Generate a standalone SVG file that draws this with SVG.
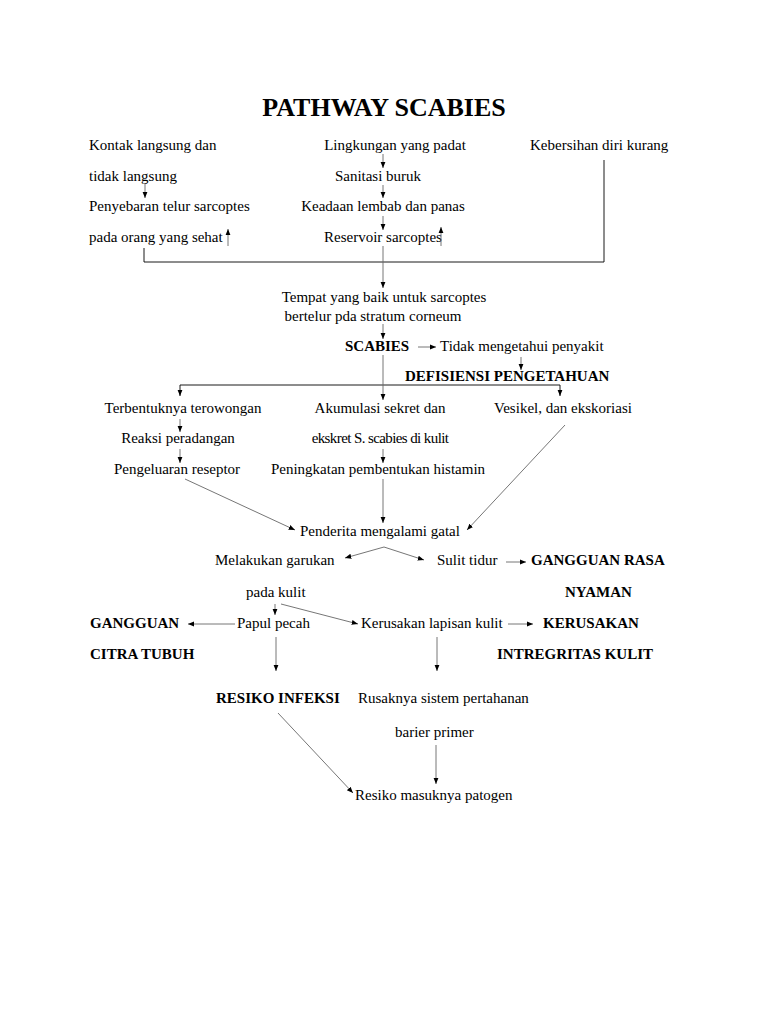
<svg xmlns="http://www.w3.org/2000/svg" width="768" height="1024" viewBox="0 0 768 1024">
<defs>
<marker id="a" viewBox="0 0 10 10" refX="10" refY="5" markerWidth="7" markerHeight="7" orient="auto"><path d="M0,1 L10,5 L0,9 Z" fill="#000"/></marker>
<style>
text{font-family:"Liberation Serif",serif;font-size:15px;fill:#000}
.b{font-weight:bold}
.c{text-anchor:middle}
line,polyline{stroke:#666;stroke-width:0.9;fill:none}
.k{stroke:#000}
</style>
</defs>
<rect width="768" height="1024" fill="#fff"/>
<text x="384" y="116" class="b c" style="font-size:26px">PATHWAY SCABIES</text>
<g id="n1"><text x="89" y="150">Kontak langsung dan</text><text x="89" y="181">tidak langsung</text></g>
<g id="n2"><text x="89" y="211">Penyebaran telur sarcoptes</text><text x="89" y="242">pada orang yang sehat</text></g>
<g id="n3"><text x="395" y="150" class="c">Lingkungan yang padat</text></g>
<g id="n4"><text x="378" y="181" class="c">Sanitasi buruk</text></g>
<g id="n5"><text x="383" y="211" class="c">Keadaan lembab dan panas</text></g>
<g id="n6"><text x="383" y="242" class="c">Reservoir sarcoptes</text></g>
<g id="n7"><text x="530" y="150">Kebersihan diri kurang</text></g>
<g id="n8"><text x="384" y="302" class="c">Tempat yang baik untuk sarcoptes</text><text x="373" y="321" class="c">bertelur pda stratum corneum</text></g>
<g id="n9"><text x="345" y="351" class="b">SCABIES</text></g>
<g id="n10"><text x="440" y="351">Tidak mengetahui penyakit</text></g>
<g id="n11"><text x="405" y="381" class="b">DEFISIENSI PENGETAHUAN</text></g>
<g id="n12"><text x="183" y="413" class="c">Terbentuknya terowongan</text></g>
<g id="n13"><text x="178" y="443" class="c">Reaksi peradangan</text></g>
<g id="n14"><text x="177" y="474" class="c">Pengeluaran reseptor</text></g>
<g id="n15"><text x="380" y="413" class="c">Akumulasi sekret dan</text><text x="380" y="443" class="c" style="letter-spacing:-0.6px">ekskret S. scabies di kulit</text></g>
<g id="n16"><text x="378" y="474" class="c">Peningkatan pembentukan histamin</text></g>
<g id="n17"><text x="563" y="413" class="c">Vesikel, dan ekskoriasi</text></g>
<g id="n18"><text x="300" y="536">Penderita mengalami gatal</text></g>
<g id="n19"><text x="215" y="565">Melakukan garukan</text><text x="246" y="597">pada kulit</text></g>
<g id="n20"><text x="437" y="565">Sulit tidur</text></g>
<g id="n21"><text x="531" y="565" class="b">GANGGUAN RASA</text><text x="565" y="597" class="b">NYAMAN</text></g>
<g id="n22"><text x="90" y="628" class="b">GANGGUAN</text><text x="90" y="659" class="b">CITRA TUBUH</text></g>
<g id="n23"><text x="237" y="628">Papul pecah</text></g>
<g id="n24"><text x="361" y="628">Kerusakan lapisan kulit</text></g>
<g id="n25"><text x="543" y="628" class="b">KERUSAKAN</text><text x="497" y="659" class="b">INTREGRITAS KULIT</text></g>
<g id="n26"><text x="216" y="703" class="b">RESIKO INFEKSI</text></g>
<g id="n27"><text x="358" y="703">Rusaknya sistem pertahanan</text><text x="395" y="737">barier primer</text></g>
<g id="n28"><text x="355" y="800">Resiko masuknya patogen</text></g>
<g id="connectors" marker-end="url(#a)">
<line x1="145" y1="184" x2="145" y2="198"/>
<line x1="383" y1="154" x2="383" y2="168"/>
<line x1="383" y1="185" x2="383" y2="198"/>
<line x1="383" y1="216" x2="383" y2="230"/>
<line x1="228" y1="246" x2="228" y2="229"/>
<line x1="441" y1="246" x2="441" y2="227"/>
<polyline points="144,248 144,262 604,262 604,160" marker-end="none" class="k"/>
<line x1="383" y1="246" x2="383" y2="288"/>
<line x1="383" y1="324" x2="383" y2="339"/>
<line x1="418" y1="347" x2="436" y2="347"/>
<line x1="521" y1="357" x2="521" y2="370"/>
<polyline points="180,385 560,385" marker-end="none" class="k"/>
<line x1="180" y1="385" x2="180" y2="396" class="k"/>
<line x1="560" y1="385" x2="560" y2="396" class="k"/>
<line x1="383" y1="355" x2="383" y2="400"/>
<line x1="180" y1="419" x2="180" y2="432"/>
<line x1="180" y1="449" x2="180" y2="463"/>
<line x1="383" y1="449" x2="383" y2="463"/>
<line x1="185" y1="479" x2="295" y2="530"/>
<line x1="383" y1="479" x2="383" y2="523"/>
<line x1="565" y1="425" x2="467" y2="530"/>
<line x1="384" y1="547" x2="345" y2="558"/>
<line x1="384" y1="547" x2="424" y2="560"/>
<line x1="506" y1="562" x2="526" y2="562"/>
<line x1="275" y1="604" x2="275" y2="615"/>
<line x1="281" y1="604" x2="358" y2="624"/>
<line x1="235" y1="624" x2="188" y2="624"/>
<line x1="508" y1="624" x2="533" y2="624"/>
<line x1="276" y1="637" x2="276" y2="671"/>
<line x1="437" y1="637" x2="437" y2="671"/>
<line x1="278" y1="713" x2="353" y2="793"/>
<line x1="436" y1="745" x2="436" y2="784"/>
</g>
</svg>
